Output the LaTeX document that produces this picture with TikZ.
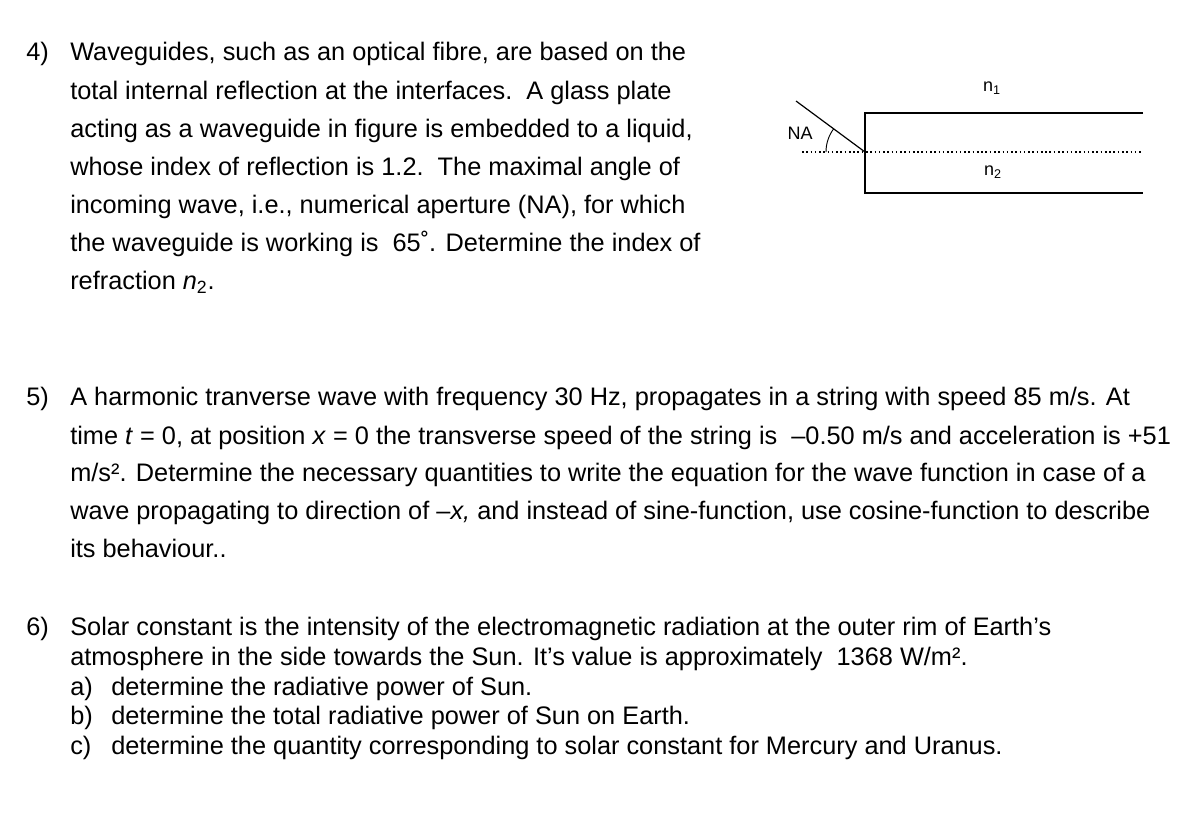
\documentclass[tikz,border=0pt]{standalone}
\usepackage{fontspec}
\setmainfont{Liberation Sans}
\begin{document}
\begin{tikzpicture}[x=0.75pt,y=-0.75pt,
  txt/.style={anchor=base west,inner sep=0pt,font=\fontsize{19}{22}\selectfont},
  sm/.style={inner sep=0pt,font=\fontsize{13.5}{15}\selectfont},
  ln/.style={line width=0.9pt}]
\useasboundingbox (0,0) rectangle (1200,826);
% Q4
\node[txt] (q4n) at (26,60) {4)};
\node[txt] (q4a) at (70,60) {Waveguides, such as an optical fibre, are based on the};
\node[txt] (q4b) at (70,99) {total internal reflection at the interfaces.\ \ A glass plate};
\node[txt] (q4c) at (70,137) {acting as a waveguide in figure is embedded to a liquid,};
\node[txt] (q4d) at (70,175) {whose index of reflection is 1.2.\ \ The maximal angle of};
\node[txt] (q4e) at (70,213) {incoming wave, i.e., numerical aperture (NA), for which};
\node[txt] (q4f) at (70,251) {the waveguide is working is\ \ 65˚. Determine the index of};
\node[txt] (q4g) at (70,289) {refraction \textit{n}\textsubscript{2}.};
% figure
\coordinate (tl) at (865,113); \coordinate (tr) at (1143,113);
\coordinate (bl) at (865,193); \coordinate (br) at (1143,193);
\coordinate (dl) at (802,152); \coordinate (dr) at (1143,152);
\coordinate (ray) at (796,101);
\draw[ln] (tr) -- (tl) -- (bl) -- (br);
\draw[line width=1.2pt,dotted] (dl) -- (dr);
\draw[ln] (ray) -- (bl |- dl);
\draw[line width=0.7pt] (826,152) arc[start angle=180,end angle=217,radius=39];
\node[sm] (na) at (800,133) {NA};
\node[sm] (n1) at (992,88) {n\textsubscript{1}};
\node[sm] (n2) at (993,172) {n\textsubscript{2}};
% Q5
\node[txt] (q5n) at (26,405) {5)};
\node[txt] (q5a) at (70,405) {A harmonic tranverse wave with frequency 30 Hz, propagates in a string with speed 85 m/s. At};
\node[txt] (q5b) at (70,444) {time \textit{t} = 0, at position \textit{x} = 0 the transverse speed of the string is\ \ –0.50 m/s and acceleration is +51};
\node[txt] (q5c) at (70,481) {m/s². Determine the necessary quantities to write the equation for the wave function in case of a};
\node[txt] (q5d) at (70,519) {wave propagating to direction of –\textit{x,} and instead of sine-function, use cosine-function to describe};
\node[txt] (q5e) at (70,557) {its behaviour..};
% Q6
\node[txt] (q6n) at (26,635) {6)};
\node[txt] (q6a) at (70,635) {Solar constant is the intensity of the electromagnetic radiation at the outer rim of Earth’s};
\node[txt] (q6b) at (70,665) {atmosphere in the side towards the Sun. It’s value is approximately\ \ 1368 W/m².};
\node[txt] (q6c) at (70,695) {a)};
\node[txt] (q6ct) at (111,695) {determine the radiative power of Sun.};
\node[txt] (q6d) at (70,724) {b)};
\node[txt] (q6dt) at (111,724) {determine the total radiative power of Sun on Earth.};
\node[txt] (q6e) at (70,754) {c)};
\node[txt] (q6et) at (111,754) {determine the quantity corresponding to solar constant for Mercury and Uranus.};
\end{tikzpicture}
\end{document}
